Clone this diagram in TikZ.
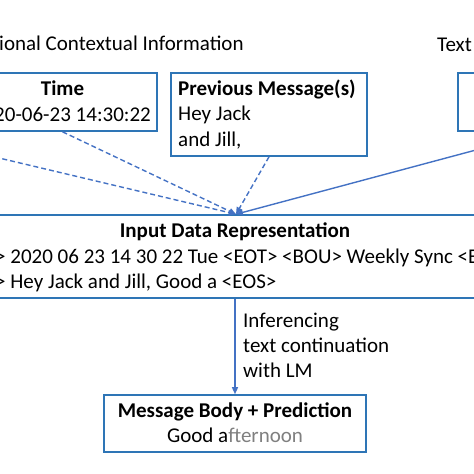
\documentclass[tikz,border=0pt]{standalone}
\usepackage{fontspec}
\setmainfont{Carlito}
\usepackage{xcolor}
\usetikzlibrary{arrows.meta, positioning, calc}
\definecolor{boxblue}{RGB}{46,117,182}
\definecolor{linkblue}{RGB}{68,114,196}
\definecolor{predgray}{RGB}{128,128,128}
\tikzset{
    infobox/.style={draw=boxblue, line width=1.6pt, fill=white, inner sep=0pt},
    txt/.style={inner sep=0pt, anchor=base west},
    ctxt/.style={inner sep=0pt, anchor=base},
    link/.style={draw=linkblue, line width=1.4pt, -{Triangle[length=7pt, width=6pt]}},
    dlink/.style={link, dash pattern=on 5pt off 3pt},
}

\begin{document}
\begin{tikzpicture}[x=1pt, y=-1pt, font=\fontsize{21}{25}\selectfont]
    \useasboundingbox (0,0) rectangle (474,474);
    \clip (0,0) rectangle (474,474);

    % 标题
    \node[txt] (ctxtitle) at (-1,50) {ional Contextual Information};
    \node[txt] (txttitle) at (437,51) {Text};

    % 上下文信息框
    \node[infobox, minimum width=189pt, minimum height=58pt] (timebox) at (62.5,102) {};
    \node[ctxt] (timehead) at (62.5,95) {\bfseries Time};
    \node[txt, anchor=base east] (timeval) at (151,121) {20-06-23 14:30:22};

    \node[infobox, minimum width=196pt, minimum height=83pt] (prevbox) at (269,114.5) {};
    \node[txt] (prevhead) at (178,95) {\bfseries Previous Message(s)};
    \node[txt] (prevl1) at (178,120.5) {Hey Jack};
    \node[txt] (prevl2) at (178,146) {and Jill,};

    \node[infobox, minimum width=172pt, minimum height=58pt] (textbox) at (544,102) {};
    \coordinate (leftsrc) at (-60,144);

    % 输入表示
    \node[infobox, minimum width=620pt, minimum height=83pt] (inbox) at (236,256.5) {};
    \node[ctxt] (inhead) at (235,237) {\bfseries Input Data Representation};
    \node[txt] (inl1) at (-5,263) {> 2020 06 23 14 30 22 Tue <EOT> <BOU> Weekly Sync <E};
    \node[txt] (inl2) at (-5,288) {> Hey Jack and Jill, Good a <EOS>};

    % 汇聚箭头
    \draw[dlink] (timebox.south) -- (inbox.north);
    \draw[dlink] (leftsrc) -- (inbox.north);
    \draw[dlink] (prevbox.south) -- (inbox.north);
    \draw[link] (textbox.south) -- (inbox.north);

    % 输出
    \node[infobox, minimum width=262pt, minimum height=57pt] (msgbox) at (235,423.5) {};
    \node[ctxt] (msghead) at (235,417) {\bfseries Message Body + Prediction};
    \node[ctxt] (msgpred) at (235,442) {Good a\textcolor{predgray}{fternoon}};

    \draw[link] (inbox.south -| msgbox.north) -- (msgbox.north);
    \node[txt] (inferl1) at (243,327) {Inferencing};
    \node[txt] (inferl2) at (243,352) {text continuation};
    \node[txt] (inferl3) at (243,377) {with LM};
\end{tikzpicture}
\end{document}
